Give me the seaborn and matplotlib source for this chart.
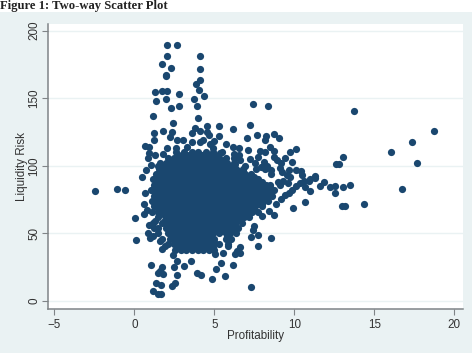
import matplotlib
matplotlib.use("Agg")
import matplotlib.pyplot as plt
from matplotlib.patches import Rectangle
import pandas as pd
import seaborn as sns

# Scattered points
upper_x = [2.04,2.69,2.04,4.13,1.73,2.29,4.13,1.96,2.0,4.11,3.86,4.06,1.29,1.75,2.06,2.79,4.36,2.0,3.73,1.38,3.92,2.78,2.31,1.15,3.98,2.4,4.54,5.31,3.81,6.17,1.23,1.79,2.38,4.13,3.63,4.56,4.65,5.27,1.23,2.23,2.65,3.06,3.59,0.65,0.92,2.02,4.73,4.94,4.1,6.19,0.92,1.29,0.84,1.81,5.36,6.2,1.04,1.46,0.71,0.46,2.6,3.3,4.3,5.0,5.7]
upper_y = [189,189,181,181,175.5,172.3,171.4,167.2,166.3,163.7,160.5,156,154.4,155,155.5,153,152,149.6,149.4,147.7,144.4,144.2,142.8,137,135.6,131.7,129.4,129.4,127.7,127,124.5,125.5,125.2,125.7,124,125.2,122.6,122,119.3,121,119,119,117.8,114.9,114.1,113,116,113,117.8,114.1,109.7,108,106,108.7,109.7,109,100.6,99.9,96.9,91.5,113,114,119,118,116]

right_x = [7.4,8.34,13.75,18.75,7.21,17.36,16.06,17.67,13.06,12.59,12.81,11.31,8.71,9.04,8.25,8.19,7.69,7.06,6.52,6.52,7.13,10.13,9.71,7.84,8.19,8.5,8.75,9.42,9.86,7.25,7.73,7.56,8.13,8.71,8.92,9.19,9.13,9.65,10.09,10.42,10.48,8.19,8.56,8.56,9.23,9.54,9.75,6.2,6.6,6.3,6.9,7.6,7.9,8.3]
right_y = [145.5,144.5,140.5,125.7,130,117.4,110,102,106.3,101.6,101.6,92.5,123.5,120.8,122,119,122.5,120.3,113,108,111.7,112.4,110.2,111.2,110.4,114,111.2,105.8,102.6,105.3,106.3,101.9,103,106.7,104.3,101.9,98.1,96.9,96.9,96.4,93.2,97.6,96.9,93.9,95.6,93.2,92,106,104,101,100,98,99,100]

tail_x = [16.75,13.46,13.02,12.56,12.21,11.63,11.88,12.52,14.34,13.19,12.98,10.67,9.92,10.92,10.38,10.13,9.59,9.13,10.69,10.96,9.86,9.65,9.44,9.19,8.86,8.71,8.4,7.96,7.46,7.42,7.71,7.27,8.53,7.71,6.59,6.63,6.42,7.31,11.31,11.0,10.6,9.3,9.0]
tail_y = [83,85.6,84.5,85,84.5,84.8,87.8,79.6,71.7,70.3,70,73.4,68.6,88.5,87.3,84.8,87.3,86,84.1,81.6,82.3,79.9,78.6,75.4,71.7,63.8,66.3,62.6,55.2,52.3,48.6,47.6,46.6,40.5,39.7,35.7,36.8,10.4,91,90,89,89,88]

left_x = [-2.46,-1.06,-0.6,0.02,0.09,1.02,1.71,1.5,1.81,1.61,1.34,1.67,1.19,1.46,1.67,2.69,2.5,3.09,3.52,2.65,2.54,2.36,3.9,4.17,4.86,5.69,5.11,5.44,6.19,5.52,5.04,6.29,5.88,2.44,1.75,1.92,0.98,1.19,0.84,0.61,0.61,0.67,0.94,1.5,1.29,0.78,1.6]
left_y = [81.4,83,82.3,61.6,44.9,26.4,24.9,20.7,20,22,13.1,12.1,7.2,5.4,5.2,19.5,25.1,25.9,29.8,29.4,13.5,10.9,20.7,19.5,16,18.5,23.7,28.1,26.8,35.5,35,34.8,40.5,34.2,38.5,40.5,46.6,47.9,50.3,64.3,71.7,80.1,56.4,54,59,67.5,44.2]

# Dense central cloud, one list per band of Liquidity Risk
band_levels = [110,106,102,98,94,90,86,82,78,74,70,66,62,58,54,50,46,42,38]
band_110 = [2.6,3.1,3.6,3.95,4.5,4.9,5.45]
band_106 = [2.1,2.5,2.85,3.2,3.55,3.9,4.25,4.6,4.95,5.3,5.75]
band_102 = [1.6,1.95,2.3,2.65,3.0,3.35,3.7,4.05,4.4,4.75,5.1,5.45,5.8,6.2]
band_98 = [1.55,1.8,2.15,2.5,2.85,3.2,3.55,3.9,4.25,4.6,4.95,5.3,5.65,6.0,6.35,6.8]
band_94 = [1.35,1.65,2.0,2.35,2.7,3.05,3.4,3.75,4.1,4.45,4.8,5.15,5.5,5.85,6.2,6.55,6.9,7.3]
band_90 = [1.15,1.45,1.8,2.15,2.5,2.85,3.2,3.55,3.9,4.25,4.6,4.95,5.3,5.65,6.0,6.35,6.7,7.05,7.4,7.75]
band_86 = [1.2,1.55,1.9,2.25,2.6,2.95,3.3,3.65,4.0,4.35,4.7,5.05,5.4,5.75,6.1,6.45,6.8,7.15,7.5,7.85,8.2,8.5]
band_82 = [1.05,1.4,1.75,2.1,2.45,2.8,3.15,3.5,3.85,4.2,4.55,4.9,5.25,5.6,5.95,6.3,6.65,7.0,7.35,7.7,8.05,8.4,8.75]
band_78 = [1.2,1.55,1.9,2.25,2.6,2.95,3.3,3.65,4.0,4.35,4.7,5.05,5.4,5.75,6.1,6.45,6.8,7.15,7.5,7.85,8.2,8.6]
band_74 = [1.1,1.4,1.75,2.1,2.45,2.8,3.15,3.5,3.85,4.2,4.55,4.9,5.25,5.6,5.95,6.3,6.65,7.0,7.35,7.7,8.05,8.35]
band_70 = [1.25,1.6,1.95,2.3,2.65,3.0,3.35,3.7,4.05,4.4,4.75,5.1,5.45,5.8,6.15,6.5,6.85,7.2,7.55,7.95]
band_66 = [1.1,1.45,1.75,2.1,2.45,2.8,3.15,3.5,3.85,4.2,4.55,4.9,5.25,5.6,5.95,6.3,6.65,7.0,7.35,7.7]
band_62 = [1.45,1.95,2.3,2.65,3.0,3.35,3.7,4.05,4.4,4.75,5.1,5.45,5.8,6.15,6.5,6.85,7.15]
band_58 = [1.15,1.7,2.1,2.45,2.8,3.15,3.5,3.85,4.2,4.55,4.9,5.25,5.6,5.95,6.3,6.7]
band_54 = [1.2,1.95,2.3,2.65,3.0,3.35,3.7,4.05,4.4,4.75,5.1,5.45,5.8,6.15,6.5]
band_50 = [1.45,2.1,2.45,2.8,3.15,3.5,3.85,4.2,4.55,4.9,5.3,5.7,6.0,6.35]
band_46 = [1.75,2.25,2.6,2.95,3.3,3.65,4.0,4.35,4.7,5.0,5.7,6.05]
band_42 = [2.1,2.45,2.8,3.15,3.5,3.85,4.2,4.55,4.9,5.3,5.85]
band_38 = [2.55,2.9,3.25,3.6,3.95,4.3,4.65,5.0]

# Points between the bands, where the cloud is solid
fill_levels = [108,104,100,96,92,88,84,80,76,72,68,64,60,56,52,48,44,40]
fill_108 = [2.7,3.0,3.4,3.8,4.2,4.6,5.0]
fill_104 = [2.3,2.6,2.9,3.2,3.5,3.8,4.1,4.4,4.7,5.0,5.3,5.6]
fill_100 = [1.9,2.2,2.5,2.8,3.1,3.4,3.7,4.0,4.3,4.6,4.9,5.2,5.5,5.8,6.1]
fill_96 = [1.7,2.0,2.3,2.6,2.9,3.2,3.5,3.8,4.1,4.4,4.7,5.0,5.3,5.6,5.9,6.2,6.5,6.8]
fill_92 = [1.5,1.8,2.1,2.4,2.7,3.0,3.3,3.6,3.9,4.2,4.5,4.8,5.1,5.4,5.7,6.0,6.3,6.6,6.9,7.2,7.5]
fill_88 = [1.4,1.7,2.0,2.3,2.6,2.9,3.2,3.5,3.8,4.1,4.4,4.7,5.0,5.3,5.6,5.9,6.2,6.5,6.8,7.1,7.4,7.7,8.0]
fill_84 = [1.3,1.6,1.9,2.2,2.5,2.8,3.1,3.4,3.7,4.0,4.3,4.6,4.9,5.2,5.5,5.8,6.1,6.4,6.7,7.0,7.3,7.6,7.9,8.2,8.5]
fill_80 = [1.3,1.6,1.9,2.2,2.5,2.8,3.1,3.4,3.7,4.0,4.3,4.6,4.9,5.2,5.5,5.8,6.1,6.4,6.7,7.0,7.3,7.6,7.9,8.2,8.5]
fill_76 = [1.3,1.6,1.9,2.2,2.5,2.8,3.1,3.4,3.7,4.0,4.3,4.6,4.9,5.2,5.5,5.8,6.1,6.4,6.7,7.0,7.3,7.6,7.9,8.2]
fill_72 = [1.4,1.7,2.0,2.3,2.6,2.9,3.2,3.5,3.8,4.1,4.4,4.7,5.0,5.3,5.6,5.9,6.2,6.5,6.8,7.1,7.4,7.7,8.0]
fill_68 = [1.5,1.8,2.1,2.4,2.7,3.0,3.3,3.6,3.9,4.2,4.5,4.8,5.1,5.4,5.7,6.0,6.3,6.6,6.9,7.2,7.5]
fill_64 = [1.8,2.1,2.4,2.7,3.0,3.3,3.6,3.9,4.2,4.5,4.8,5.1,5.4,5.7,6.0,6.3,6.6,6.9]
fill_60 = [1.9,2.2,2.5,2.8,3.1,3.4,3.7,4.0,4.3,4.6,4.9,5.2,5.5,5.8,6.1,6.4,6.6]
fill_56 = [2.1,2.4,2.7,3.0,3.3,3.6,3.9,4.2,4.5,4.8,5.1,5.4,5.7,6.0,6.3]
fill_52 = [2.2,2.5,2.8,3.1,3.4,3.7,4.0,4.3,4.6,4.9,5.2,5.5,5.9,6.2]
fill_48 = [2.4,2.7,3.0,3.3,3.6,3.9,4.2,4.5,4.8,5.8]
fill_44 = [2.6,2.9,3.2,3.5,3.8,4.1,4.4,4.7,5.0]
fill_40 = [2.8,3.1,3.4,3.7,4.0,4.3,4.6,4.9]

x_ticks = [-5,0,5,10,15,20]
y_ticks = [0,50,100,150,200]
title_text = "Figure 1: Two-way Scatter Plot"
x_name = "Profitability"
y_name = "Liquidity Risk"

bands = [band_110,band_106,band_102,band_98,band_94,band_90,band_86,band_82,band_78,band_74,
         band_70,band_66,band_62,band_58,band_54,band_50,band_46,band_42,band_38]
fills = [fill_108,fill_104,fill_100,fill_96,fill_92,fill_88,fill_84,fill_80,fill_76,fill_72,fill_68,
         fill_64,fill_60,fill_56,fill_52,fill_48,fill_44,fill_40]
cloud_x, cloud_y = [], []
for level, band in zip(band_levels + fill_levels, bands + fills):
    cloud_x += band
    cloud_y += [level] * len(band)

df = pd.DataFrame({
    x_name: upper_x + right_x + tail_x + left_x + cloud_x,
    y_name: upper_y + right_y + tail_y + left_y + cloud_y,
})

sns.set_theme(style="white")
plt.rcParams["font.family"] = ["Liberation Sans", "DejaVu Sans"]

W, H = 474, 355
BG = "#EAF2F3"
NAVY = "#1A476F"
AXC = "#7F8487"
TXT = "#333333"

fig = plt.figure(figsize=(W/100, H/100), dpi=100, facecolor="white")
fig.patches.append(Rectangle((0, 1-353/H), 472/W, (353-12)/H, transform=fig.transFigure,
                             facecolor=BG, edgecolor="none", zorder=-5))
L, R, T, B = 47.5, 462.7, 24, 308.7
ax = fig.add_axes([L/W, 1-B/H, (R-L)/W, (B-T)/H], facecolor="white")

sns.scatterplot(data=df, x=x_name, y=y_name, ax=ax, color=NAVY, s=27, linewidth=0, alpha=1, legend=False, zorder=3)

ax.set_xlim(-5.425, 20.525)
ax.set_ylim(-5.7, 204.9)
ax.set_xticks(x_ticks)
ax.set_yticks(y_ticks)
ax.grid(axis="y", color=BG, lw=1, zorder=0)
ax.grid(axis="x", visible=False)
for s in ["top", "right"]:
    ax.spines[s].set_visible(False)
for s in ["left", "bottom"]:
    ax.spines[s].set_color(AXC)
    ax.spines[s].set_linewidth(1.1)
ax.tick_params(axis="x", length=4, width=0.8, color=AXC, labelsize=8.4, labelcolor=TXT, pad=3.5, bottom=True)
ax.tick_params(axis="y", length=4, width=0.8, color=AXC, labelsize=8.4, labelcolor=TXT, pad=1, left=True)
for t in ax.get_yticklabels():
    t.set_rotation(90)
    t.set_va("center")
ax.set_xlabel(x_name, fontsize=8.4, color=TXT, labelpad=-1)
ax.set_ylabel(y_name, fontsize=8.4, color=TXT, labelpad=0.7)

fig.text(0, 1-5.5/H, title_text, family=["Liberation Serif"], fontweight="bold", fontsize=9.1, color="#222222",
         ha="left", va="center")

fig.savefig("out.png", dpi=100, facecolor="white")
